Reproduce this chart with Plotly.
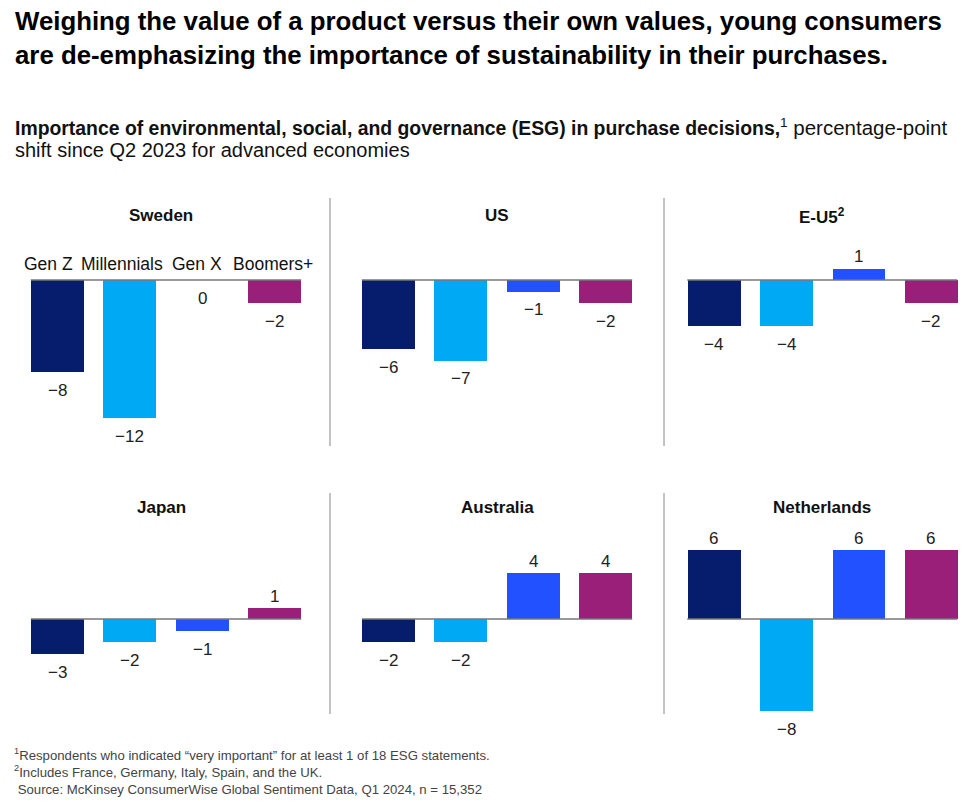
import plotly.graph_objects as go

# ---- data ----
generations = ["Gen Z", "Millennials", "Gen X", "Boomers+"]
colors = ["#061d6e", "#00a9f4", "#2251ff", "#9a1f79"]
panel_titles = ["Sweden", "US", "E-U5<sup>2</sup>", "Japan", "Australia", "Netherlands"]
sweden = [-8, -12, 0, -2]
us = [-6, -7, -1, -2]
eu5 = [-4, -4, 1, -2]
japan = [-3, -2, -1, 1]
australia = [-2, -2, 4, 4]
netherlands = [6, -8, 6, 6]
panel_values = [sweden, us, eu5, japan, australia, netherlands]

W, H = 974, 803
FONT = "Liberation Sans, Arial, sans-serif"
BAR_W = 0.73
LABEL_XSHIFT = [-9, -8, -5, -2]

# panel geometry in pixels
col_px = [(21, 311), (352, 642), (677.5, 967)]
row_px = [(211, 441), (527, 722.5)]
row_ranges = [(-14, 6), (-9, 8)]


def fx(px):
    return px / W


def fy(py):
    return 1 - py / H


fig = go.Figure()
annotations = []
shapes = []

for i, vals in enumerate(panel_values):
    r, c = divmod(i, 3)
    n = i + 1
    xa = "x" if n == 1 else f"x{n}"
    ya = "y" if n == 1 else f"y{n}"
    fig.add_trace(go.Bar(
        x=list(range(len(generations))), y=vals,
        marker=dict(color=colors, line=dict(width=0)),
        width=BAR_W, xaxis=xa, yaxis=ya, showlegend=False,
        hoverinfo="skip",
    ))
    xkey = "xaxis" if n == 1 else f"xaxis{n}"
    ykey = "yaxis" if n == 1 else f"yaxis{n}"
    fig.update_layout(**{
        xkey: dict(domain=[fx(col_px[c][0]), fx(col_px[c][1])],
                   range=[-0.5, 3.5], visible=False, fixedrange=True,
                   anchor=ya),
        ykey: dict(domain=[fy(row_px[r][1]), fy(row_px[r][0])],
                   range=list(row_ranges[r]), visible=False, fixedrange=True,
                   anchor=xa),
    })
    # baseline
    shapes.append(dict(type="line", xref=xa, yref=ya,
                       x0=-BAR_W / 2, x1=len(vals) - 1 + BAR_W / 2, y0=0, y1=0,
                       line=dict(color="#777777", width=1.3), layer="above"))
    # panel title
    cx = (col_px[c][0] + col_px[c][1]) / 2
    if c == 0:
        cx -= 5
    ty = 216 if r == 0 else 507
    annotations.append(dict(xref="paper", yref="paper", x=fx(cx), y=fy(ty),
                            text=f"<b>{panel_titles[i]}</b>", showarrow=False,
                            xanchor="center", yanchor="middle",
                            font=dict(family=FONT, size=17, color="#111111")))
    # value labels
    for k, v in enumerate(vals):
        txt = str(v).replace("-", "\u2212")
        if v > 0:
            annotations.append(dict(xref=xa, yref=ya, x=k, y=v, text=txt,
                                    showarrow=False, yanchor="bottom", yshift=0,
                                    font=dict(family=FONT, size=17, color="#222222")))
        else:
            annotations.append(dict(xref=xa, yref=ya, x=k, y=v, text=txt,
                                    showarrow=False, yanchor="top", yshift=-7,
                                    font=dict(family=FONT, size=17, color="#222222")))
    # category labels only in first panel
    if i == 0:
        for k, g in enumerate(generations):
            annotations.append(dict(xref=xa, yref=ya, x=k, y=0, text=g,
                                    showarrow=False, yanchor="bottom", yshift=4,
                                    xshift=LABEL_XSHIFT[k],
                                    font=dict(family=FONT, size=17.5, color="#111111")))

# separators
for sx in (330, 664):
    shapes.append(dict(type="line", xref="paper", yref="paper",
                       x0=fx(sx), x1=fx(sx), y0=fy(198), y1=fy(446),
                       line=dict(color="#888888", width=1)))
    shapes.append(dict(type="line", xref="paper", yref="paper",
                       x0=fx(sx), x1=fx(sx), y0=fy(493), y1=fy(714),
                       line=dict(color="#888888", width=1)))

# titles
annotations.append(dict(xref="paper", yref="paper", x=fx(13), y=fy(5),
                        xanchor="left", yanchor="top", align="left", showarrow=False,
                        text="<b>Weighing the value of a product versus their own values, young consumers<br>"
                             "are de-emphasizing the importance of sustainability in their purchases.</b>",
                        font=dict(family=FONT, size=25.8, color="#000000")))
annotations.append(dict(xref="paper", yref="paper", x=fx(13), y=fy(127),
                        xanchor="left", yanchor="middle", align="left", showarrow=False,
                        text="<b>Importance of environmental, social, and governance (ESG) in purchase decisions,</b>"
                             "<sup>1</sup><span style='font-size:20.5px'> percentage-point</span>",
                        font=dict(family=FONT, size=19.4, color="#111111")))
annotations.append(dict(xref="paper", yref="paper", x=fx(13), y=fy(150),
                        xanchor="left", yanchor="middle", align="left", showarrow=False,
                        text="shift since Q2 2023 for advanced economies",
                        font=dict(family=FONT, size=20, color="#111111")))
annotations.append(dict(xref="paper", yref="paper", x=fx(12), y=fy(744),
                        xanchor="left", yanchor="top", align="left", showarrow=False,
                        text="<sup>1</sup>Respondents who indicated \u201cvery important\u201d for at least 1 of 18 ESG statements.<br>"
                             "<sup>2</sup>Includes France, Germany, Italy, Spain, and the UK.<br>"
                             "\u00a0Source: McKinsey ConsumerWise Global Sentiment Data, Q1 2024, n = 15,352",
                        font=dict(family=FONT, size=13.2, color="#444444")))

fig.update_layout(
    width=W, height=H, margin=dict(l=0, r=0, t=0, b=0),
    paper_bgcolor="white", plot_bgcolor="white",
    annotations=annotations, shapes=shapes, bargap=0,
)

fig.write_html("out.html", config={"displayModeBar": False})
